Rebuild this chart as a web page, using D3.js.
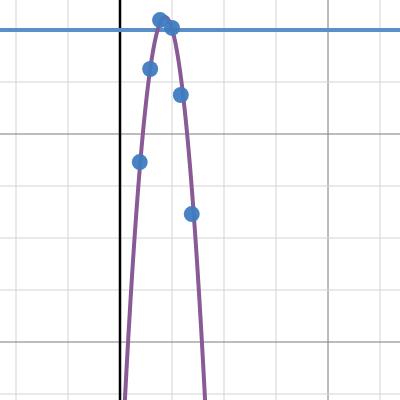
<!DOCTYPE html>
<html><head><meta charset="utf-8">
<script src="https://cdn.jsdelivr.net/npm/d3@7"></script>
<style>body{margin:0;background:#fff}</style>
</head><body><div id="chart"></div>
<script>
// data, in graph units
var pointsX = [0.77, 1.0, 0.58, 1.17, 0.38, 1.38];
var pointsY = [14.19, 14.04, 13.25, 12.75, 11.46, 10.46];
var hLineY = 14.0;
// fitted parabola y = top - a*(x - h)^2
var fitTop = 14.25, fitA = 12.4, fitH = 0.865;

var W = 400, H = 400, unit = 52;
var x = d3.scaleLinear().domain([-120 / unit, 280 / unit]).range([0, W]);
var y = d3.scaleLinear().domain([12 - 266 / unit, 12 + 134 / unit]).range([H, 0]);

var svg = d3.select('#chart').append('svg').attr('width', W).attr('height', H);

// grid lines
d3.range(-2, 6).forEach(function(v) {
    svg.append('line').attr('x1', x(v)).attr('x2', x(v)).attr('y1', 0).attr('y2', H)
        .style('stroke', v % 4 === 0 ? '#7a7a7a' : '#d4d4d4').style('stroke-width', 1);
});
d3.range(6, 15).forEach(function(v) {
    svg.append('line').attr('y1', y(v)).attr('y2', y(v)).attr('x1', 0).attr('x2', W)
        .style('stroke', v % 4 === 0 ? '#7a7a7a' : '#d4d4d4').style('stroke-width', 1);
});
// y axis
svg.append('line').attr('x1', x(0)).attr('x2', x(0)).attr('y1', 0).attr('y2', H)
    .style('stroke', '#000').style('stroke-width', 2.5);

// horizontal line
svg.append('line').attr('x1', 0).attr('x2', W).attr('y1', y(hLineY)).attr('y2', y(hLineY))
    .style('stroke', '#5b8fc7').style('stroke-width', 4);

// fitted curve
var xs = d3.range(0, 1.75, 0.01);
var line = d3.line().x(function(d) { return x(d); })
    .y(function(d) { return y(fitTop - fitA * (d - fitH) * (d - fitH)); });
svg.append('path').attr('d', line(xs)).style('fill', 'none')
    .style('stroke', '#8a5a96').style('stroke-width', 4);

// points
svg.selectAll('circle').data(pointsX).enter().append('circle')
    .attr('cx', function(d) { return x(d); })
    .attr('cy', function(d, i) { return y(pointsY[i]); })
    .attr('r', 8).style('fill', '#3f7cc0').style('opacity', 0.95);
</script>
</body></html>
